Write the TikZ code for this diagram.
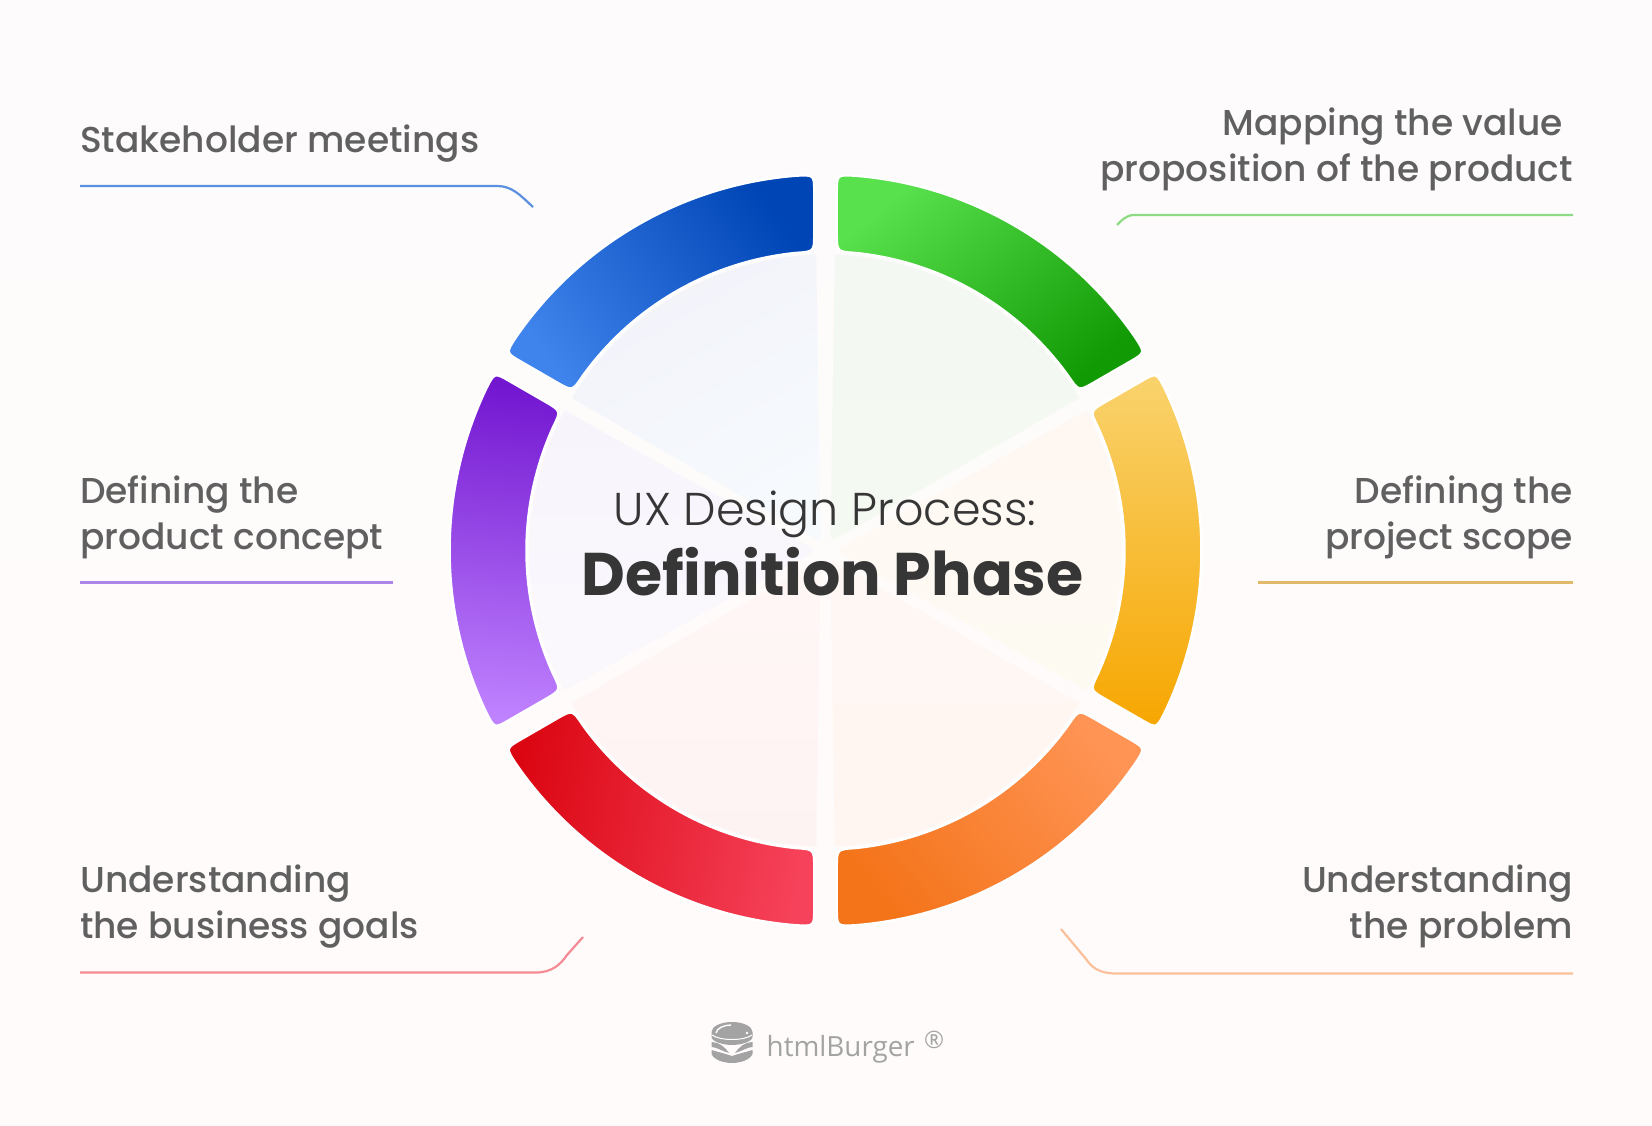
\documentclass[tikz,border=0pt]{standalone}
\usepackage{fontspec}
\setmainfont{Poppins}
\newfontfamily\popmed{Poppins Medium}
\newfontfamily\poplight{Poppins Light}
\newfontfamily\popbold{Poppins Bold}
\newfontfamily\logofont{Open Sans}
\definecolor{bgtop}{HTML}{FDFBFB}
\definecolor{bgbot}{HTML}{FFFBFA}
\definecolor{labeltext}{HTML}{606060}
\definecolor{titletext}{HTML}{363636}
\definecolor{logogrey}{HTML}{A3A3A3}
\definecolor{lblue}{HTML}{5B8FDF}
\definecolor{lgreen}{HTML}{8EDB85}
\definecolor{lpurple}{HTML}{AD85E8}
\definecolor{lyellow}{HTML}{E0B96A}
\definecolor{lred}{HTML}{F58B94}
\definecolor{lorange}{HTML}{F9C09B}
\definecolor{sba}{HTML}{F2F3FA}\definecolor{sbb}{HTML}{F6FAFD}
\definecolor{sga}{HTML}{F3F8F2}\definecolor{sgb}{HTML}{F4F9F1}
\definecolor{sya}{HTML}{FFF8F2}\definecolor{syb}{HTML}{FDFAF2}
\definecolor{soa}{HTML}{FFF7F3}\definecolor{sob}{HTML}{FFF6F2}
\definecolor{sra}{HTML}{FDF3F3}\definecolor{srb}{HTML}{FFF7F5}
\definecolor{spa}{HTML}{F7F4FC}\definecolor{spb}{HTML}{FBF8FD}
\definecolor{gba}{HTML}{3F83EC}\definecolor{gbb}{HTML}{0045B5}
\definecolor{gga}{HTML}{58E04D}\definecolor{ggb}{HTML}{129A05}
\definecolor{gya}{HTML}{F9D36E}\definecolor{gyb}{HTML}{F7A600}
\definecolor{goa}{HTML}{F4741A}\definecolor{gob}{HTML}{FF9455}
\definecolor{gra}{HTML}{DB0612}\definecolor{grb}{HTML}{F6425A}
\definecolor{gpa}{HTML}{7216D0}\definecolor{gpb}{HTML}{C083FF}
\newcommand{\segpath}[1]{%
  (#1-30+1.71+2.74:376) arc[start angle=#1-30+1.71+2.74,end angle=#1+30-1.71-2.74,radius=376pt]
  .. controls (#1+30-1.71:376) .. (#1+30-1.80:358)
  -- (#1+30-2.03:317) .. controls (#1+30-2.16:299) .. (#1+30-2.16-3.45:299)
  arc[start angle=#1+30-2.16-3.45,end angle=#1-30+2.16+3.45,radius=299pt]
  .. controls (#1-30+2.16:299) .. (#1-30+2.03:317)
  -- (#1-30+1.80:358) .. controls (#1-30+1.71:376) .. cycle}
% axis angle, offset at ccw end, offset at cw end
\newcommand{\sectorpath}[3]{%
  (#1+30-#2:296) [rounded corners=7pt] -- (#1:10) [sharp corners] -- (#1-30+#3:296)
  arc[start angle=#1-30+#3,end angle=#1+30-#2,radius=296pt] -- cycle}
\tikzset{
  seg/.style={draw=white,line width=2.5pt,line join=round},
  leader/.style={line width=2.2pt,line cap=butt},
  lefttext/.style={font=\popmed\fontsize{36}{36}\selectfont,text=labeltext,inner sep=0pt,anchor=base west},
  righttext/.style={font=\popmed\fontsize{36}{36}\selectfont,text=labeltext,inner sep=0pt,anchor=base east},
}
\begin{document}
\begin{tikzpicture}[x=1pt,y=1pt]
\useasboundingbox (0,0) rectangle (1652,1125);
\shade[top color=bgtop,bottom color=bgbot] (0,0) rectangle (1652,1125);
\begin{scope}[shift={(825.5,574.5)}]
  % pale inner sectors
  \shade[top color=sba,bottom color=sbb,shading angle=30] \sectorpath{120}{1.0}{1.8};
  \shade[top color=sga,bottom color=sgb] \sectorpath{60}{1.8}{1.0};
  \shade[top color=sya,bottom color=syb] \sectorpath{0}{1.8}{1.8};
  \shade[top color=soa,bottom color=sob] \sectorpath{-60}{1.0}{1.8};
  \shade[top color=srb,bottom color=sra] \sectorpath{-120}{1.8}{1.0};
  \shade[top color=spa,bottom color=spb] \sectorpath{180}{1.8}{1.8};
  % coloured ring segments
  \shadedraw[seg,bottom color=gba,top color=gbb,shading angle=-55] \segpath{120};
  \shadedraw[seg,top color=gga,bottom color=ggb,shading angle=40] \segpath{60};
  \shadedraw[seg,top color=gya,bottom color=gyb] \segpath{0};
  \shadedraw[seg,bottom color=goa,top color=gob,shading angle=-50] \segpath{-60};
  \shadedraw[seg,bottom color=gra,top color=grb,shading angle=-100] \segpath{-120};
  \shadedraw[seg,top color=gpa,bottom color=gpb,shading angle=-6] \segpath{180};
\end{scope}
% title
\node[inner sep=0pt,anchor=base,text=titletext,font=\poplight\fontsize{46}{46}\selectfont] (title) at (825,599) {UX Design Process:};
\node[inner sep=0pt,anchor=base,text=titletext,font=\popbold\fontsize{60.2}{60}\selectfont] (phase) at (832.5,529) {Definition Phase};
% labels
\node[lefttext] (t1) at (80,972) {Stakeholder meetings};
\node[righttext] (t2a) at (1563,989) {Mapping the value};
\node[righttext] (t2b) at (1573,943) {proposition of the product};
\node[lefttext] (t3a) at (80,621) {Defining the};
\node[lefttext] (t3b) at (80,575) {product concept};
\node[righttext] (t4a) at (1573,621) {Defining the};
\node[righttext] (t4b) at (1573,575) {project scope};
\node[lefttext] (t5a) at (80,232.5) {Understanding};
\node[lefttext] (t5b) at (80,186) {the business goals};
\node[righttext] (t6a) at (1573,232.5) {Understanding};
\node[righttext] (t6b) at (1573,186) {the problem};
% leader lines
\coordinate (b0) at (80,939); \coordinate (b1) at (497,939); \coordinate (b2) at (533,918);
\draw[leader,lblue] (b0) -- (b1) .. controls (512,939) and (520,930) .. (b2);
\coordinate (g0) at (1573,910); \coordinate (g1) at (1134,910); \coordinate (g2) at (1117,900);
\draw[leader,lgreen] (g0) -- (g1) .. controls (1126,910) and (1121,904) .. (g2);
\coordinate (p0) at (80,542.5); \coordinate (p1) at (393,542.5);
\draw[leader,lpurple] (p0) -- (p1);
\coordinate (y0) at (1258,542.5); \coordinate (y1) at (1573,542.5);
\draw[leader,lyellow] (y0) -- (y1);
\coordinate (r0) at (80,152.5); \coordinate (r1) at (536,152.5); \coordinate (r2) at (583,188);
\draw[leader,lred] (r0) -- (r1) .. controls (552,152.5) and (561,161) .. (567,170) -- (r2);
\coordinate (o0) at (1573,151.5); \coordinate (o1) at (1116,151.5); \coordinate (o2) at (1061,196);
\draw[leader,lorange] (o0) -- (o1) .. controls (1100,151.5) and (1092,157) .. (1086,166) -- (o2);
% logo
\begin{scope}[shift={(732,92)}]
  \fill[logogrey] (-20.5,1) arc[start angle=180,end angle=0,x radius=20.5pt,y radius=10pt]
     -- (20.5,-4) .. controls (20,-9) and (8,-12) .. (0,-12) .. controls (-8,-12) and (-20,-9) .. (-20.5,-4) -- cycle;
  \draw[white,line width=1.4pt] (-16,0) .. controls (-15,5) and (-8,8) .. (-1,8);
  \fill[white] (15,0) circle (1.4pt);
  \draw[white,line width=1pt] (-20,-2) .. controls (-12,-8) and (12,-8) .. (20,-2);
  \fill[logogrey] (-20.5,-9) .. controls (-13,-9) and (-7,-14) .. (-3,-20) .. controls (-10,-18) and (-16,-14) .. (-20.5,-14) -- cycle;
  \fill[logogrey] (20.5,-9) .. controls (13,-9) and (7,-14) .. (3,-20) .. controls (10,-18) and (16,-14) .. (20.5,-14) -- cycle;
  \fill[logogrey] (-20.5,-17) .. controls (-14,-19) and (-6,-21) .. (0,-23) .. controls (6,-21) and (14,-19) .. (20.5,-17)
     -- (20.5,-21) .. controls (18,-27) and (8,-30) .. (0,-30) .. controls (-8,-30) and (-18,-27) .. (-20.5,-21) -- cycle;
\end{scope}
\node[inner sep=0pt,anchor=base west,text=logogrey,font=\logofont\fontsize{27.8}{28}\selectfont] (logo) at (766.5,69) {htmlBurger};
\node[inner sep=0pt,anchor=center,text=logogrey,font=\logofont\fontsize{24}{24}\selectfont] (reg) at (934,85) {®};
\end{tikzpicture}
\end{document}
